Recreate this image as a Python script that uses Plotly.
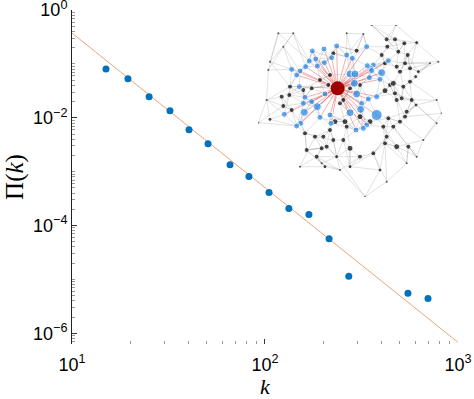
import numpy as np
import plotly.graph_objects as go

# ---- main data ----
k = [15.0, 19.5, 25.1, 32.2, 40.4, 50.7, 65.9, 82.6, 105, 133, 169, 215, 272, 551, 700]
Pi = [0.081, 0.053, 0.0245, 0.0135, 0.0060, 0.0033, 0.00135, 0.00081, 0.00041,
      0.000206, 0.00016, 5.7e-5, 1.14e-5, 5.5e-6, 4.4e-6]
k_fit = [10, 1000]
Pi_fit = [0.375, 6.8e-7]

x_tickvals = [10, 100, 1000]
x_ticktext = ["10<sup>1</sup>", "10<sup>2</sup>", "10<sup>3</sup>"]
y_tickvals = [1, 1e-2, 1e-4, 1e-6]
y_ticktext = ["10<sup>0</sup>", "10<sup>−2</sup>", "10<sup>−4</sup>", "10<sup>−6</sup>"]

# ---- inset network (approximate node positions, inset units) ----
hub_x = [263]
hub_y = [265]
blue_x = [187, 222, 260, 350, 290, 307, 370, 362, 415, 245, 125, 150, 167, 178, 197, 223, 202, 140, 148,
          300, 315, 395, 390, 358, 352, 365, 313, 320, 225, 165, 160, 355, 380, 335, 202, 185, 163, 103,
          300, 332, 240, 210, 380, 350, 340, 318, 152, 140, 243]
blue_y = [153, 147, 138, 140, 165, 175, 195, 205, 182, 173, 208, 213, 200, 183, 177, 188, 198, 225, 260,
          222, 222, 218, 238, 233, 197, 212, 250, 282, 282, 292, 310, 297, 290, 310, 320, 305, 337, 343,
          338, 328, 345, 352, 345, 375, 385, 390, 370, 378, 370]
blue_s = [6, 6, 6, 6, 6, 6, 6, 6, 6, 6, 6, 6, 6, 6, 6, 6, 6, 6, 6,
          8, 8, 8, 6, 6, 6, 6, 8, 8, 6, 6, 6, 6, 6, 6, 8, 6, 8, 6,
          8, 8, 6, 6, 11, 6, 6, 6, 6, 6, 6]
black_x = [410, 435, 463, 412, 445, 473, 500, 465, 480, 440, 450, 420, 430, 405, 435, 460, 480, 497, 505,
           440, 455, 485, 498, 470, 465, 450, 430, 415, 400, 410, 405, 440, 475, 370, 330, 300, 280, 250,
           230, 215, 200, 220, 195, 165, 170, 240, 255, 285, 290, 330, 360, 210, 185, 160, 120, 118, 95,
           60, 100, 125, 235, 240, 300, 250, 270, 280, 330, 405, 395, 320, 260, 225, 300, 390]
black_y = [118, 118, 130, 140, 155, 165, 128, 190, 205, 200, 215, 255, 250, 272, 280, 260, 245, 230, 215,
           300, 295, 300, 315, 335, 350, 365, 380, 355, 380, 410, 430, 440, 440, 460, 470, 445, 420, 420,
           440, 445, 470, 410, 410, 400, 450, 390, 365, 365, 380, 350, 365, 240, 265, 270, 260, 285, 290,
           358, 318, 330, 255, 225, 265, 160, 310, 300, 255, 190, 165, 152, 470, 500, 500, 510]
black_s = [5, 5, 5, 5, 5, 5, 4, 5, 5, 5, 5, 5, 6, 6, 5, 5, 5, 4, 4,
           5, 5, 5, 4, 5, 5, 5, 5, 5, 5, 5, 5, 6, 5, 5, 5, 6, 5, 5,
           5, 5, 5, 5, 5, 5, 5, 5, 6, 6, 5, 6, 6, 5, 5, 5, 5, 5, 5,
           4, 5, 5, 5, 5, 5, 5, 5, 5, 5, 5, 5, 5, 4, 4, 4, 4]
tiny_x = [85, 130, 290, 340, 365, 438, 100, 60, 565, 540, 575, 560, 25, 55, 50, 150, 215, 270, 345, 410,
          470, 500, 560, 520]
tiny_y = [100, 100, 100, 102, 75, 75, 140, 185, 185, 190, 340, 300, 368, 210, 300, 500, 490, 510, 590, 545,
          490, 470, 370, 420]

fig = go.Figure()

fig.add_trace(go.Scatter(x=k_fit, y=Pi_fit, mode="lines",
                         line=dict(color="#E9A47C", width=1), showlegend=False))
fig.add_trace(go.Scatter(x=k, y=Pi, mode="markers",
                         marker=dict(color="#0072BD", size=7), showlegend=False))

# --- network edges ---
all_x = np.array(blue_x + black_x + tiny_x, dtype=float)
all_y = np.array(blue_y + black_y + tiny_y, dtype=float)
ex, ey = [], []
n = len(all_x)
for i in range(n):
    d = np.hypot(all_x - all_x[i], all_y - all_y[i])
    order = np.argsort(d)
    for r in (2, 4, 7):
        j = order[r]
        ex += [all_x[i], all_x[j], None]
        ey += [all_y[i], all_y[j], None]
fig.add_trace(go.Scatter(x=ex, y=ey, mode="lines", xaxis="x2", yaxis="y2",
                         line=dict(color="rgba(130,130,130,0.4)", width=0.6),
                         hoverinfo="skip", showlegend=False))
rx, ry = [], []
for bx, by in zip(blue_x, blue_y):
    rx += [hub_x[0], bx, None]
    ry += [hub_y[0], by, None]
fig.add_trace(go.Scatter(x=rx, y=ry, mode="lines", xaxis="x2", yaxis="y2",
                         line=dict(color="rgba(230,90,90,0.5)", width=1),
                         hoverinfo="skip", showlegend=False))
fig.add_trace(go.Scatter(x=tiny_x, y=tiny_y, mode="markers", xaxis="x2", yaxis="y2",
                         marker=dict(color="#555555", size=2), showlegend=False))
fig.add_trace(go.Scatter(x=black_x, y=black_y, mode="markers", xaxis="x2", yaxis="y2",
                         marker=dict(color="#000000", size=black_s), showlegend=False))
fig.add_trace(go.Scatter(x=blue_x, y=blue_y, mode="markers", xaxis="x2", yaxis="y2",
                         marker=dict(color="#2186E8", size=blue_s), showlegend=False))
fig.add_trace(go.Scatter(x=hub_x, y=hub_y, mode="markers", xaxis="x2", yaxis="y2",
                         marker=dict(color="#A00000", size=14), showlegend=False))

tickfont = dict(family="Liberation Sans, Arial, sans-serif", size=18, color="#000")
fig.update_layout(
    width=474, height=399,
    margin=dict(l=72, r=16, t=10, b=55),
    paper_bgcolor="white", plot_bgcolor="rgba(0,0,0,0)",
    font=dict(color="#000"),
    xaxis=dict(type="log", range=[1, 3.0005], tickmode="array", tickvals=x_tickvals, ticktext=x_ticktext,
               showgrid=False, zeroline=False, showline=False, automargin=False,
               ticks="inside", ticklen=5, tickcolor="#333", ticklabeloverflow="allow",
               ticklabelstandoff=8,
               minor=dict(ticks="inside", ticklen=3, dtick="D1", tickcolor="#999", showgrid=False),
               tickfont=tickfont,
               title=dict(text="<i>k</i>", font=dict(family="Liberation Serif, serif", size=22, color="#000"),
                          standoff=0)),
    yaxis=dict(type="log", range=[-6.2, 0.002], tickmode="array", tickvals=y_tickvals, ticktext=y_ticktext,
               showgrid=False, zeroline=False, showline=True, linecolor="#222", linewidth=1, automargin=False,
               ticks="inside", ticklen=5, tickcolor="#333", ticklabeloverflow="allow",
               minor=dict(ticks="inside", ticklen=3, dtick="D1", tickcolor="#999", showgrid=False),
               tickfont=tickfont,
               title=dict(text="Π(<i>k</i>)", font=dict(family="Liberation Serif, serif", size=25, color="#000"),
                          standoff=2)),
    xaxis2=dict(domain=[0.4827, 0.9577], range=[25, 575], anchor="y2",
                visible=False, showgrid=False, zeroline=False),
    yaxis2=dict(domain=[0.4411, 0.9551], range=[590, 75], anchor="x2",
                visible=False, showgrid=False, zeroline=False),
)

fig.write_html("out.html", config={"displayModeBar": False},
               post_script="document.body.style.margin='0';document.body.style.overflow='hidden';")
